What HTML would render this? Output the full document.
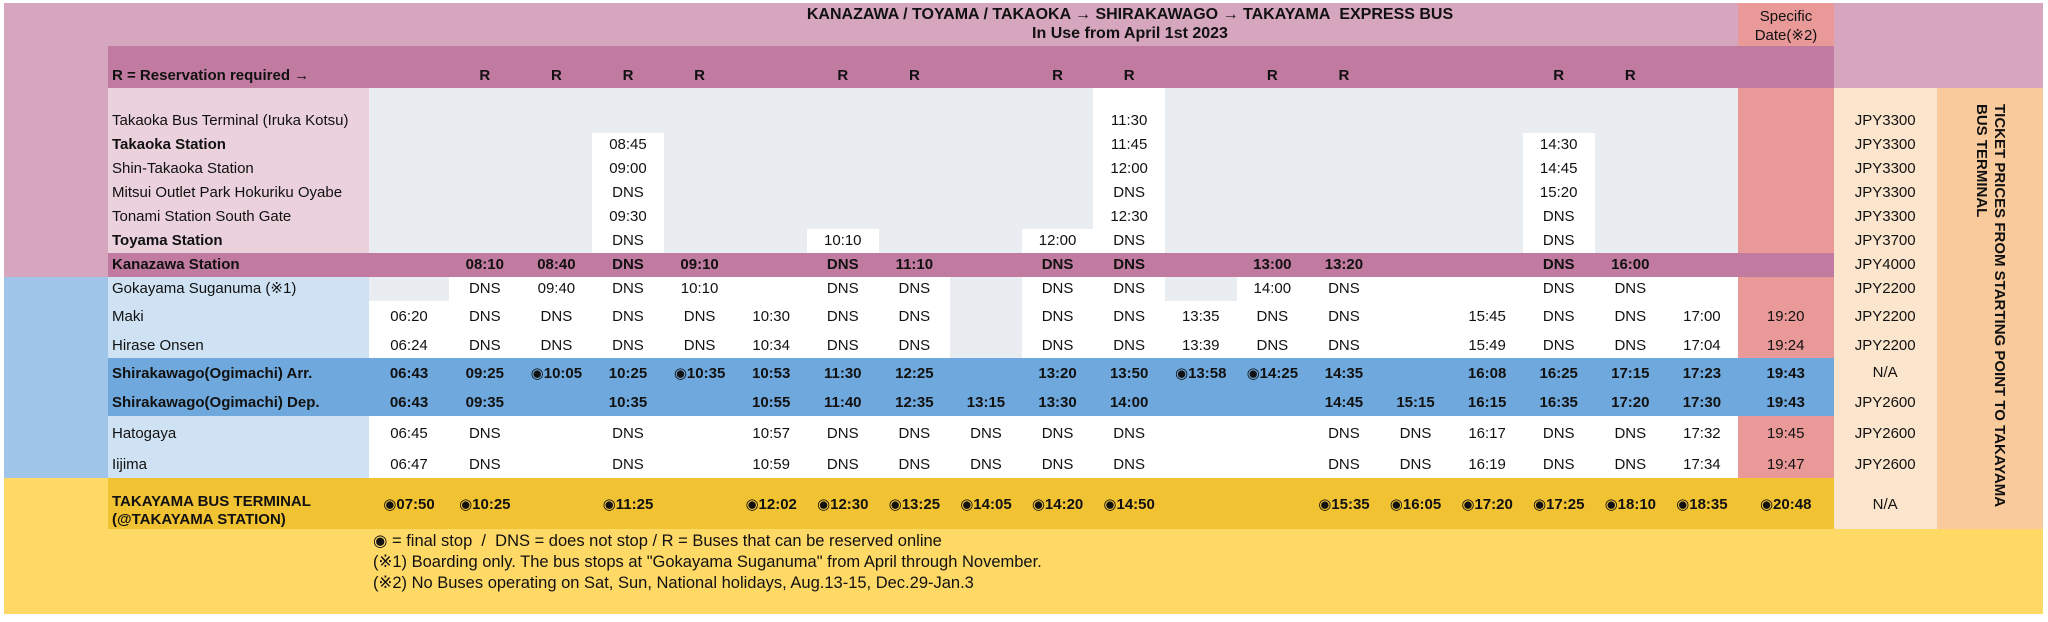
<!DOCTYPE html>
<html><head><meta charset="utf-8"><style>
*{margin:0;padding:0;box-sizing:border-box}
body{width:2048px;height:622px;background:#fff;position:relative;overflow:hidden;font-family:"Liberation Sans","DejaVu Sans",sans-serif;font-size:15px;color:#111}
.a{position:absolute}
.row{position:absolute;left:108px;display:flex;width:1829px}
.row span{display:block;flex:none;width:71.6px;text-align:center;white-space:nowrap;overflow:visible}
.row span.l{width:261px;text-align:left;padding-left:4px}
.row span.c0{width:80px}
.row span.sp{width:96px}
.row span.pr{width:103px;font-weight:normal}
.up{background:#e9edf1}
.up .l{background:#ead1dc}
.up .sp{background:#ea9999}
.pr{background:#fce5cd}
.w{background:#fff}
.g{background:#e9edf1}
.mid{background:#fff}
.mid .l{background:#cfe2f3}
.mid .sp{background:#ea9999}
.kz{background:#c27ba0;font-weight:bold}
.bl{background:#6fa8dc;font-weight:bold}
.ty{background:#f1c232;font-weight:bold}
b{font-weight:bold}
</style></head><body>
<div class="a" style="left:4px;top:3px;width:2039px;height:43px;background:#d5a6bd"></div>
<div class="a" style="left:4px;top:3px;width:104px;height:274px;background:#d5a6bd"></div>
<div class="a" style="left:4px;top:277px;width:104px;height:201px;background:#9fc5e8"></div>
<div class="a" style="left:4px;top:478px;width:104px;height:136px;background:#ffd966"></div>
<div class="a" style="left:4px;top:529px;width:2039px;height:85px;background:#ffd966"></div>
<div class="a" style="left:1834px;top:3px;width:209px;height:85px;background:#d5a6bd"></div>
<div class="a" style="left:1738px;top:3px;width:96px;height:43px;background:#ea9999;text-align:center;line-height:19px;padding-top:4px;font-size:15px">Specific<br>Date(※2)</div>
<div class="a" style="left:1937px;top:88px;width:106px;height:441px;background:#f9cb9c"></div>
<div class="a" style="left:1937px;top:104px;width:106px;height:410px;writing-mode:vertical-rl;font-weight:bold;font-size:15px;line-height:18px;display:flex;align-items:center;justify-content:flex-start">TICKET PRICES FROM STARTING POINT TO TAKAYAMA<br>BUS TERMINAL</div>
<div class="a" style="left:680px;top:5px;width:900px;text-align:center;font-weight:bold;font-size:16px;line-height:19px">KANAZAWA / TOYAMA / TAKAOKA → SHIRAKAWAGO → TAKAYAMA&nbsp; EXPRESS BUS<br>In Use from April 1st 2023</div>

<div class="row kz" style="top:46px;height:42px;width:1726px;line-height:20px;padding-top:20px"><span class="l">R = Reservation required →</span><span class="c0"></span><span>R</span><span>R</span><span>R</span><span>R</span><span></span><span>R</span><span>R</span><span></span><span>R</span><span>R</span><span></span><span>R</span><span>R</span><span></span><span></span><span>R</span><span>R</span><span></span><span class="sp"></span></div>

<div class="row up" style="top:88px;height:45px;line-height:24px;padding-top:21px"><span class="l" style="margin-top:-21px;padding-top:21px">Takaoka Bus Terminal (Iruka Kotsu)</span><span class="c0"></span><span></span><span></span><span></span><span></span><span></span><span></span><span></span><span></span><span></span><span class="w" style="margin-top:-21px;padding-top:21px">11:30</span><span></span><span></span><span></span><span></span><span></span><span></span><span></span><span></span><span class="sp" style="margin-top:-21px;padding-top:21px"></span><span class="pr" style="margin-top:-21px;padding-top:21px">JPY3300</span></div>
<div class="row up" style="top:133px;height:24px;line-height:24px"><span class="l"><b>Takaoka Station</b></span><span class="c0"></span><span></span><span></span><span class="w">08:45</span><span></span><span></span><span></span><span></span><span></span><span></span><span class="w">11:45</span><span></span><span></span><span></span><span></span><span></span><span class="w">14:30</span><span></span><span></span><span class="sp"></span><span class="pr">JPY3300</span></div>
<div class="row up" style="top:157px;height:24px;line-height:24px"><span class="l">Shin-Takaoka Station</span><span class="c0"></span><span></span><span></span><span class="w">09:00</span><span></span><span></span><span></span><span></span><span></span><span></span><span class="w">12:00</span><span></span><span></span><span></span><span></span><span></span><span class="w">14:45</span><span></span><span></span><span class="sp"></span><span class="pr">JPY3300</span></div>
<div class="row up" style="top:181px;height:24px;line-height:24px"><span class="l">Mitsui Outlet Park Hokuriku Oyabe</span><span class="c0"></span><span></span><span></span><span class="w">DNS</span><span></span><span></span><span></span><span></span><span></span><span></span><span class="w">DNS</span><span></span><span></span><span></span><span></span><span></span><span class="w">15:20</span><span></span><span></span><span class="sp"></span><span class="pr">JPY3300</span></div>
<div class="row up" style="top:205px;height:24px;line-height:24px"><span class="l">Tonami Station South Gate</span><span class="c0"></span><span></span><span></span><span class="w">09:30</span><span></span><span></span><span></span><span></span><span></span><span></span><span class="w">12:30</span><span></span><span></span><span></span><span></span><span></span><span class="w">DNS</span><span></span><span></span><span class="sp"></span><span class="pr">JPY3300</span></div>
<div class="row up" style="top:229px;height:24px;line-height:24px"><span class="l"><b>Toyama Station</b></span><span class="c0"></span><span></span><span></span><span class="w">DNS</span><span></span><span></span><span class="w">10:10</span><span></span><span></span><span class="w">12:00</span><span class="w">DNS</span><span></span><span></span><span></span><span></span><span></span><span class="w">DNS</span><span></span><span></span><span class="sp"></span><span class="pr">JPY3700</span></div>
<div class="row kz" style="top:253px;height:24px;line-height:24px"><span class="l">Kanazawa Station</span><span class="c0"></span><span>08:10</span><span>08:40</span><span>DNS</span><span>09:10</span><span></span><span>DNS</span><span>11:10</span><span></span><span>DNS</span><span>DNS</span><span></span><span>13:00</span><span>13:20</span><span></span><span></span><span>DNS</span><span>16:00</span><span></span><span class="sp"></span><span class="pr">JPY4000</span></div>
<div class="row mid" style="top:277px;height:24px;line-height:24px"><span class="l">Gokayama Suganuma (※1)</span><span class="c0 g"></span><span>DNS</span><span>09:40</span><span>DNS</span><span>10:10</span><span></span><span>DNS</span><span>DNS</span><span class="g"></span><span>DNS</span><span>DNS</span><span class="g"></span><span>14:00</span><span>DNS</span><span></span><span></span><span>DNS</span><span>DNS</span><span></span><span class="sp"></span><span class="pr">JPY2200</span></div>
<div class="row mid" style="top:301px;height:31px;line-height:31px"><span class="l">Maki</span><span class="c0">06:20</span><span>DNS</span><span>DNS</span><span>DNS</span><span>DNS</span><span>10:30</span><span>DNS</span><span>DNS</span><span class="g"></span><span>DNS</span><span>DNS</span><span>13:35</span><span>DNS</span><span>DNS</span><span></span><span>15:45</span><span>DNS</span><span>DNS</span><span>17:00</span><span class="sp">19:20</span><span class="pr">JPY2200</span></div>
<div class="row mid" style="top:332px;height:26px;line-height:28px"><span class="l">Hirase Onsen</span><span class="c0">06:24</span><span>DNS</span><span>DNS</span><span>DNS</span><span>DNS</span><span>10:34</span><span>DNS</span><span>DNS</span><span class="g"></span><span>DNS</span><span>DNS</span><span>13:39</span><span>DNS</span><span>DNS</span><span></span><span>15:49</span><span>DNS</span><span>DNS</span><span>17:04</span><span class="sp">19:24</span><span class="pr">JPY2200</span></div>
<div class="row bl" style="top:358px;height:32px;line-height:32px"><span class="l">Shirakawago(Ogimachi) Arr.</span><span class="c0">06:43</span><span>09:25</span><span>◉10:05</span><span>10:25</span><span>◉10:35</span><span>10:53</span><span>11:30</span><span>12:25</span><span></span><span>13:20</span><span>13:50</span><span>◉13:58</span><span>◉14:25</span><span>14:35</span><span></span><span>16:08</span><span>16:25</span><span>17:15</span><span>17:23</span><span class="sp">19:43</span><span class="pr" style="line-height:30px">N/A</span></div>
<div class="row bl" style="top:390px;height:26px;line-height:26px"><span class="l">Shirakawago(Ogimachi) Dep.</span><span class="c0">06:43</span><span>09:35</span><span></span><span>10:35</span><span></span><span>10:55</span><span>11:40</span><span>12:35</span><span>13:15</span><span>13:30</span><span>14:00</span><span></span><span></span><span>14:45</span><span>15:15</span><span>16:15</span><span>16:35</span><span>17:20</span><span>17:30</span><span class="sp">19:43</span><span class="pr">JPY2600</span></div>
<div class="row mid" style="top:416px;height:36px;line-height:36px"><span class="l">Hatogaya</span><span class="c0">06:45</span><span>DNS</span><span></span><span>DNS</span><span></span><span>10:57</span><span>DNS</span><span>DNS</span><span>DNS</span><span>DNS</span><span>DNS</span><span></span><span></span><span>DNS</span><span>DNS</span><span>16:17</span><span>DNS</span><span>DNS</span><span>17:32</span><span class="sp">19:45</span><span class="pr">JPY2600</span></div>
<div class="row mid" style="top:452px;height:26px;line-height:26px"><span class="l">Iijima</span><span class="c0">06:47</span><span>DNS</span><span></span><span>DNS</span><span></span><span>10:59</span><span>DNS</span><span>DNS</span><span>DNS</span><span>DNS</span><span>DNS</span><span></span><span></span><span>DNS</span><span>DNS</span><span>16:19</span><span>DNS</span><span>DNS</span><span>17:34</span><span class="sp">19:47</span><span class="pr">JPY2600</span></div>
<div class="row ty" style="top:478px;height:51px;line-height:54px"><span class="l" style="line-height:18px;padding-top:15px">TAKAYAMA BUS TERMINAL<br>(@TAKAYAMA STATION)</span><span class="c0">◉07:50</span><span>◉10:25</span><span></span><span>◉11:25</span><span></span><span>◉12:02</span><span>◉12:30</span><span>◉13:25</span><span>◉14:05</span><span>◉14:20</span><span>◉14:50</span><span></span><span></span><span>◉15:35</span><span>◉16:05</span><span>◉17:20</span><span>◉17:25</span><span>◉18:10</span><span>◉18:35</span><span class="sp">◉20:48</span><span class="pr">N/A</span></div>
<div class="a" style="left:373px;top:531px;line-height:21px;font-size:16.5px">◉ = final stop&nbsp; /&nbsp; DNS = does not stop / R = Buses that can be reserved online<br>(※1) Boarding only. The bus stops at "Gokayama Suganuma" from April through November.<br>(※2) No Buses operating on Sat, Sun, National holidays, Aug.13-15, Dec.29-Jan.3</div>
</body></html>
